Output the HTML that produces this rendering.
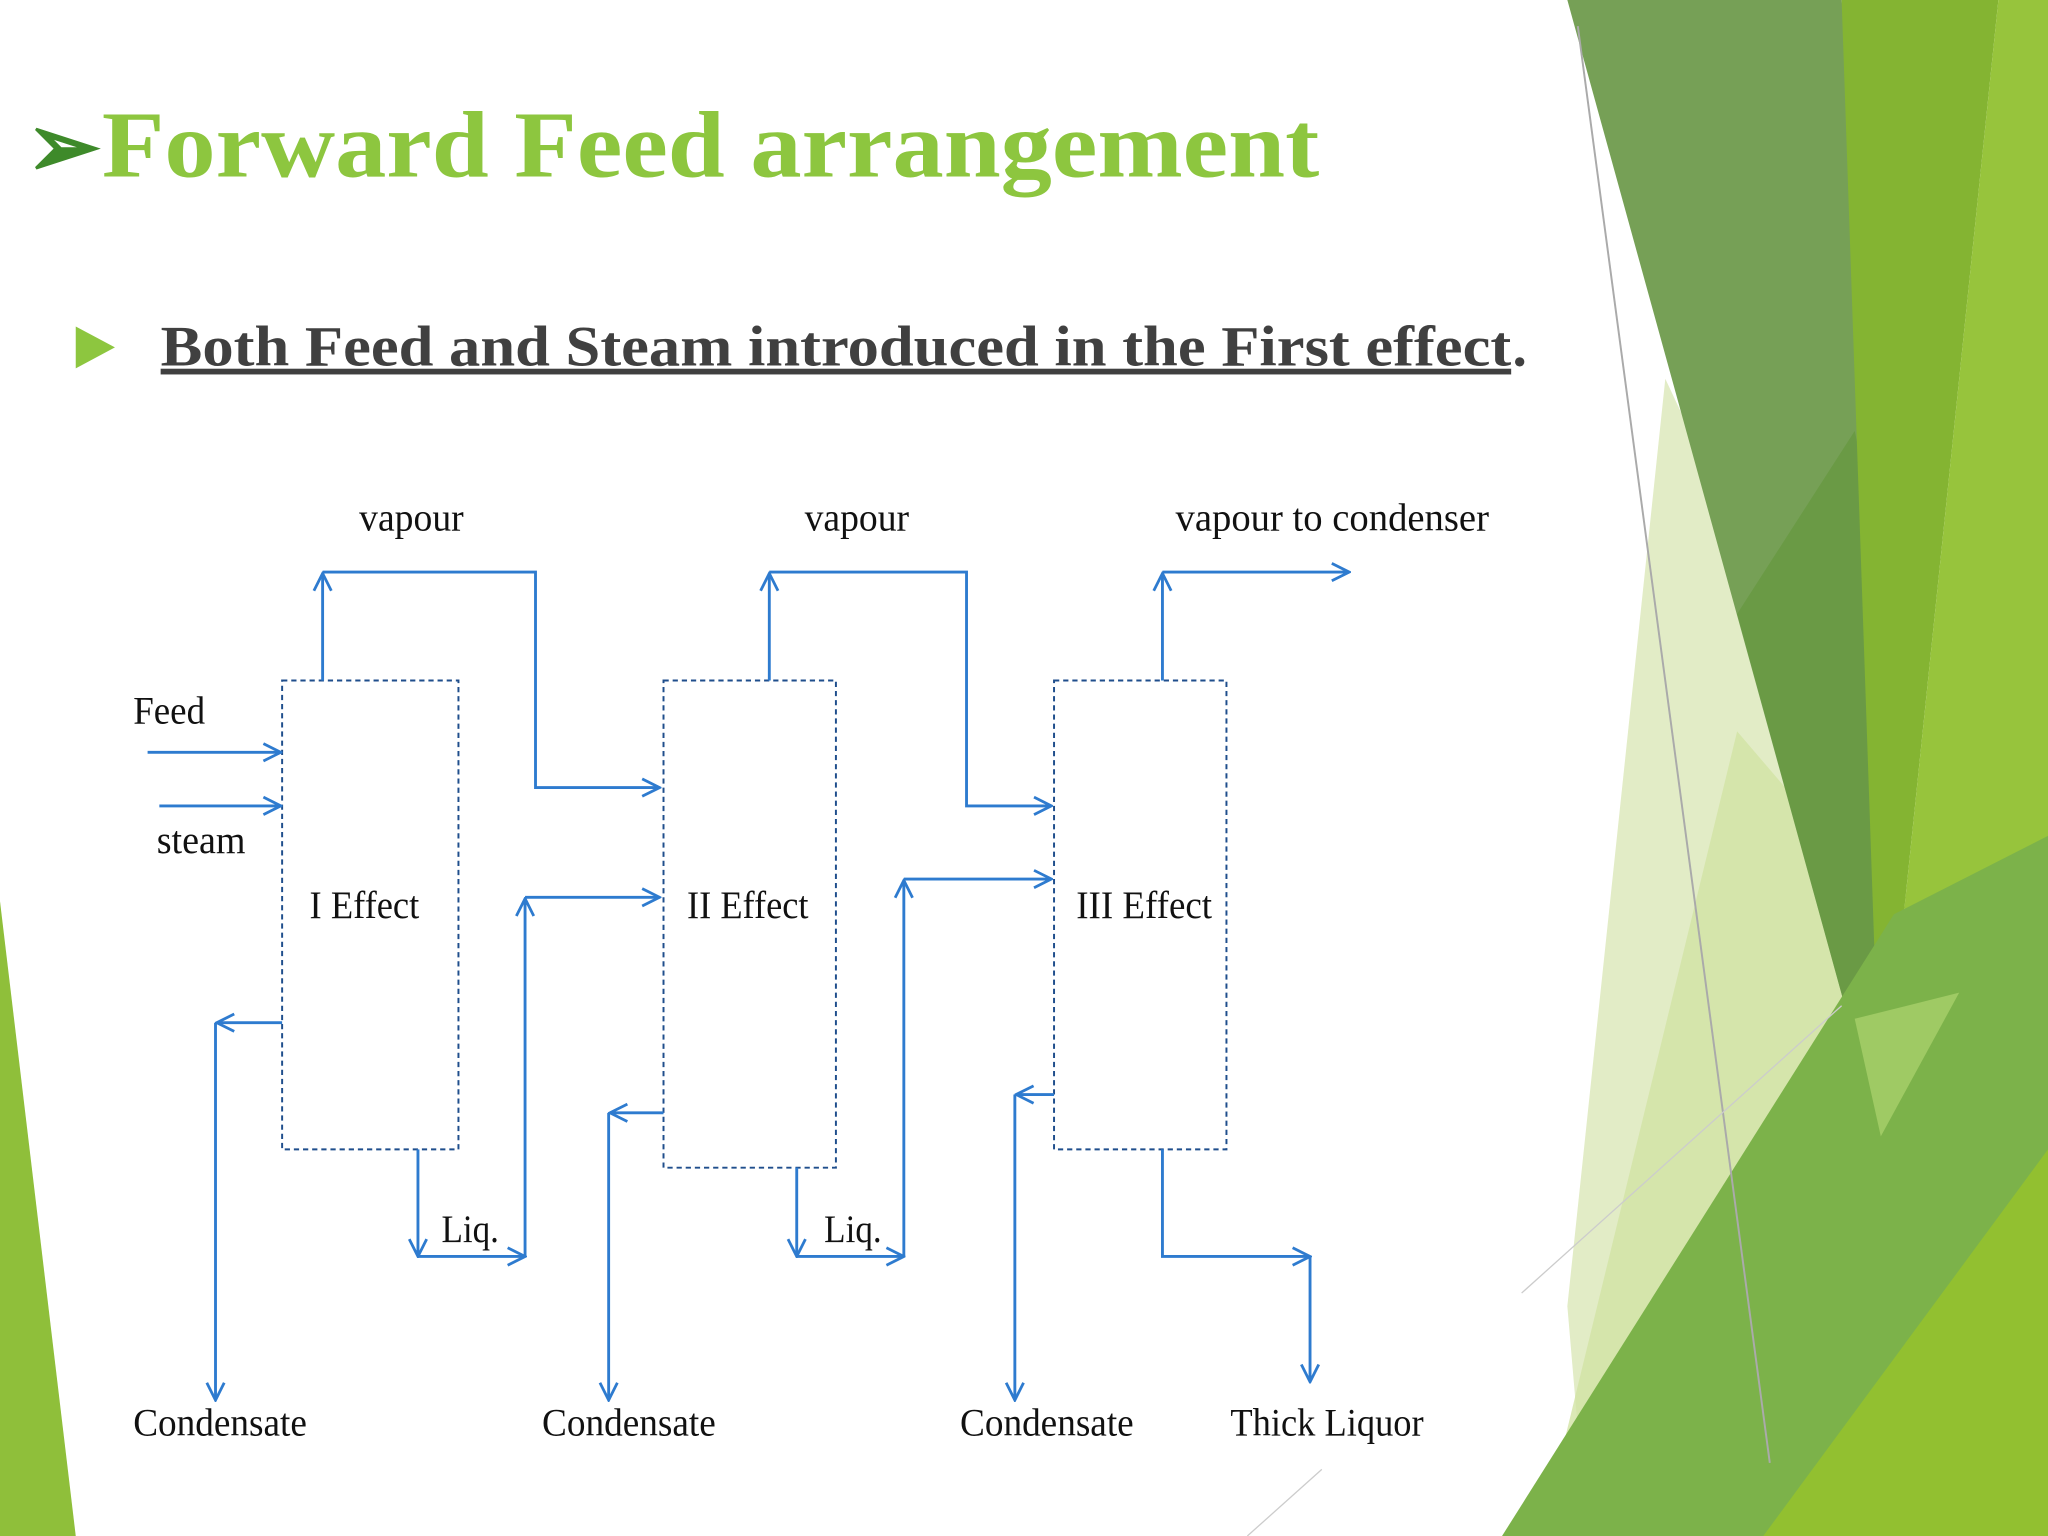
<!DOCTYPE html>
<html><head><meta charset="utf-8"><style>
html,body{margin:0;padding:0;background:#fff;}
svg{display:block;}
text{font-family:"Liberation Serif",serif;}
</style></head><body>
<svg width="2048" height="1536" viewBox="0 0 1568 1176" xmlns="http://www.w3.org/2000/svg">
<defs>
<marker id="a" viewBox="0 0 12 12" refX="11" refY="6" markerWidth="16" markerHeight="16" markerUnits="userSpaceOnUse" orient="auto">
<path d="M1,1 L11,6 L1,11" fill="none" stroke="#2e7bcf" stroke-width="1.6"/>
</marker>
</defs>
<rect width="1568" height="1176" fill="#fff"/>
<!-- right decoration -->
<polygon points="1275,290 1500,770 1440,1100 1215,1176 1200,1000" fill="#e2ecc6"/>
<polygon points="1330,560 1450,700 1420,1176 1180,1176" fill="#d2e3a4" opacity="0.8"/>
<polygon points="1200,0 1410,0 1470,560 1440,870" fill="#76a056"/>
<polygon points="1330,470 1420,330 1470,560 1440,870" fill="#6a9a45"/>
<polygon points="1410,0 1530,0 1440,870" fill="#84b432"/>
<polygon points="1530,0 1568,0 1568,1176 1420,1176 1440,870" fill="#97c43c"/>
<polygon points="1150,1176 1450,700 1568,640 1568,1176" fill="#7cb24a"/>
<polygon points="1350,1176 1568,880 1568,1176" fill="#92c030"/>
<polygon points="1420,780 1500,760 1440,870" fill="#a8d06a" opacity="0.8"/>
<line x1="1208" y1="20" x2="1355" y2="1120" stroke="#aaa" stroke-width="1.5"/>
<line x1="1165" y1="990" x2="1410" y2="770" stroke="#ccc" stroke-width="1"/>
<line x1="955" y1="1176" x2="1012" y2="1125" stroke="#ccc" stroke-width="1"/>
<!-- left slice -->
<polygon points="0,690 0,1176 58,1176" fill="#8fbf3a"/>
<!-- title -->
<text x="20" y="135" font-size="68" fill="#3e8a2a" font-weight="bold">➢</text>
<text x="78" y="135" font-size="72" fill="#8dc63f" font-weight="bold" textLength="932" lengthAdjust="spacingAndGlyphs">Forward Feed arrangement</text>
<polygon points="58,250 88,266 58,282" fill="#8dc63f"/>
<text x="123" y="280" font-size="44" fill="#404040" font-weight="bold" text-decoration="underline" textLength="1034" lengthAdjust="spacingAndGlyphs">Both Feed and Steam introduced in the First effect</text>
<text x="1158" y="280" font-size="44" fill="#404040" font-weight="bold">.</text>
<!-- boxes -->
<g fill="none" stroke="#1f4e8c" stroke-width="1.5" stroke-dasharray="4,3">
<rect x="216" y="521" width="135" height="359"/>
<rect x="508" y="521" width="132" height="373"/>
<rect x="807" y="521" width="132" height="359"/>
</g>
<g fill="none" stroke="#2e7bcf" stroke-width="2.2">
<path d="M247,521 V439" marker-end="url(#a)"/>
<path d="M247,438 H410 V603 H505" marker-end="url(#a)"/>
<path d="M589,521 V439" marker-end="url(#a)"/>
<path d="M589,438 H740 V617 H805" marker-end="url(#a)"/>
<path d="M890,521 V439" marker-end="url(#a)"/>
<path d="M890,438 H1033" marker-end="url(#a)"/>
<path d="M113,576 H215" marker-end="url(#a)"/>
<path d="M122,617 H215" marker-end="url(#a)"/>
<path d="M216,783 H166" marker-end="url(#a)"/>
<path d="M165,783 V1072" marker-end="url(#a)"/>
<path d="M320,880 V962" marker-end="url(#a)"/>
<path d="M320,962 H402" marker-end="url(#a)"/>
<path d="M402,962 V688" marker-end="url(#a)"/>
<path d="M402,687 H505" marker-end="url(#a)"/>
<path d="M508,852 H467" marker-end="url(#a)"/>
<path d="M466,852 V1072" marker-end="url(#a)"/>
<path d="M610,894 V962" marker-end="url(#a)"/>
<path d="M610,962 H692" marker-end="url(#a)"/>
<path d="M692,962 V674" marker-end="url(#a)"/>
<path d="M692,673 H805" marker-end="url(#a)"/>
<path d="M807,838 H778" marker-end="url(#a)"/>
<path d="M777,838 V1072" marker-end="url(#a)"/>
<path d="M890,880 V962 H1003" marker-end="url(#a)"/>
<path d="M1003,962 V1058" marker-end="url(#a)"/>
</g>
<g font-size="30" fill="#111">
<text x="275" y="406" textLength="80" lengthAdjust="spacingAndGlyphs">vapour</text>
<text x="616" y="406" textLength="80" lengthAdjust="spacingAndGlyphs">vapour</text>
<text x="900" y="406" textLength="240" lengthAdjust="spacingAndGlyphs">vapour  to condenser</text>
<text x="102" y="554" textLength="55" lengthAdjust="spacingAndGlyphs">Feed</text>
<text x="120" y="653" textLength="68" lengthAdjust="spacingAndGlyphs">steam</text>
<text x="237" y="703" textLength="84" lengthAdjust="spacingAndGlyphs">I Effect</text>
<text x="526" y="703" textLength="93" lengthAdjust="spacingAndGlyphs">II Effect</text>
<text x="824" y="703" textLength="104" lengthAdjust="spacingAndGlyphs">III Effect</text>
<text x="338" y="951" textLength="44" lengthAdjust="spacingAndGlyphs">Liq.</text>
<text x="631" y="951" textLength="44" lengthAdjust="spacingAndGlyphs">Liq.</text>
<text x="102" y="1099" textLength="133" lengthAdjust="spacingAndGlyphs">Condensate</text>
<text x="415" y="1099" textLength="133" lengthAdjust="spacingAndGlyphs">Condensate</text>
<text x="735" y="1099" textLength="133" lengthAdjust="spacingAndGlyphs">Condensate</text>
<text x="942" y="1099" textLength="148" lengthAdjust="spacingAndGlyphs">Thick Liquor</text>
</g>
</svg>
</body></html>
